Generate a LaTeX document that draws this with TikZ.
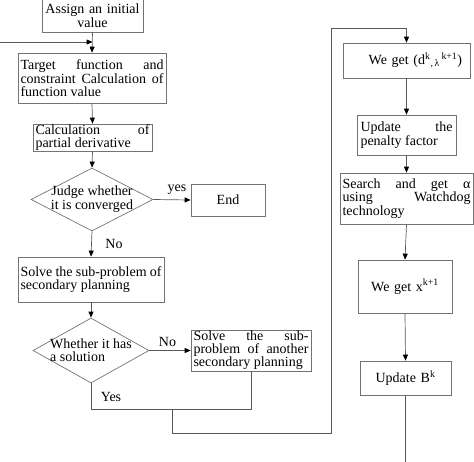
\documentclass[tikz,border=0pt]{standalone}
\usepackage{fontspec}
\setmainfont{Liberation Serif}
\usetikzlibrary{shapes.geometric,arrows.meta}
\begin{document}
\begin{tikzpicture}[x=1pt,y=-1pt,
  font=\fontsize{14}{12.6}\selectfont,
  line/.style={draw=black!65, line width=0.7pt},
  arr/.style={line, -{Triangle[length=6pt,width=5pt,color=black]}},
  box/.style={draw=black!55, line width=0.7pt, rectangle, inner ysep=0pt, inner xsep=2.5pt},
  jbox/.style={box, align=justify},
  cbox/.style={box, align=center},
  decision/.style={draw=black!55, line width=0.7pt, diamond, inner sep=0pt},
  tag/.style={inner sep=0pt}
]
\useasboundingbox (0,0) rectangle (474,461);

% left column
\node[cbox, minimum width=101pt, minimum height=33pt, text width=96pt] (assign) at (92.5,15.5)
  {Assign an initial\\value};
\node[jbox, minimum width=148pt, minimum height=50pt, text width=143pt] (target) at (92,78)
  {Target function and\linebreak constraint Calculation of\linebreak function value};
\node[jbox, minimum width=119pt, minimum height=27pt, text width=114pt] (calc) at (92.5,137.5)
  {Calculation of\linebreak partial derivative};
\node[decision, minimum width=122pt, minimum height=63pt,
  label={[align=center, inner sep=0pt]center:Judge whether\\it is converged}] (judge) at (92,199.5) {};
\node[cbox, minimum width=74pt, minimum height=32pt, text width=69pt] (end) at (228,200) {End};
\node[jbox, minimum width=146pt, minimum height=45pt, text width=141pt] (solve) at (91,279.5)
  {Solve the sub-problem of\\secondary planning};
\node[decision, minimum width=116pt, minimum height=65pt,
  label={[align=left, inner sep=0pt]center:Whether it has\\a solution}] (whether) at (91,350.5) {};
\node[jbox, minimum width=120pt, minimum height=41pt, text width=115pt] (another) at (251,350.5)
  {Solve the sub-\linebreak problem of another\linebreak secondary planning};

% right column
\node[box, align=right, inner xsep=8pt, minimum width=127pt, minimum height=35pt, text width=111pt] (wegetd) at (406.5,60.5)
  {We get (d\textsuperscript{k}\textsubscript{,\,λ}\textsuperscript{\,k+1})};
\node[jbox, minimum width=99pt, minimum height=40pt, text width=92pt, inner xsep=3.5pt] (penalty) at (406.5,135)
  {Update the\linebreak penalty factor};
\node[jbox, minimum width=133pt, minimum height=51pt, text width=128pt] (search) at (406.5,198.5)
  {Search and get α\linebreak using Watchdog\linebreak technology};
\node[cbox, minimum width=94pt, minimum height=53pt, text width=89pt] (wegetx) at (405,286.5)
  {We get x\textsuperscript{k+1}};
\node[cbox, minimum width=91pt, minimum height=34pt, text width=86pt] (updateB) at (405.5,378)
  {Update B\textsuperscript{k}};

% route points
\coordinate (entry) at (-2,42);
\coordinate (merge) at (92.5,42);
\coordinate (yesL) at (91,409);
\coordinate (yesR) at (251,409);
\coordinate (loopA) at (172,409);
\coordinate (loopB) at (172,433);
\coordinate (loopC) at (331,433);
\coordinate (loopD) at (331,28);
\coordinate (loopE) at (406.5,28);
\coordinate (exit) at (405.5,463);

% connectors
\draw[arr] (entry) -- (merge);
\draw[arr] (assign.south) -- (target.north);
\draw[arr] (target.south) -- (calc.north);
\draw[arr] (calc.south) -- (judge.north);
\draw[arr] (judge.east) -- (end.west);
\draw[arr] (judge.south) -- (solve.north);
\draw[arr] (solve.south) -- (whether.north);
\draw[arr] (whether.east) -- (another.west);
\draw[line] (whether.south) -- (yesL) -- (yesR) -- (another.south);
\draw[arr] (loopA) -- (loopB) -- (loopC) -- (loopD) -- (loopE) -- (wegetd.north);
\draw[arr] (wegetd.south) -- (penalty.north);
\draw[arr] (penalty.south) -- (search.north);
\draw[arr] (search.south) -- (wegetx.north);
\draw[arr] (wegetx.south) -- (updateB.north);
\draw[line] (updateB.south) -- (exit);

% branch labels
\node[tag] (lyes) at (177,190) {yes};
\node[tag] (lno1) at (114,244) {No};
\node[tag] (lno2) at (167.5,342) {No};
\node[tag] (lyes2) at (111,397) {Yes};
\end{tikzpicture}
\end{document}
